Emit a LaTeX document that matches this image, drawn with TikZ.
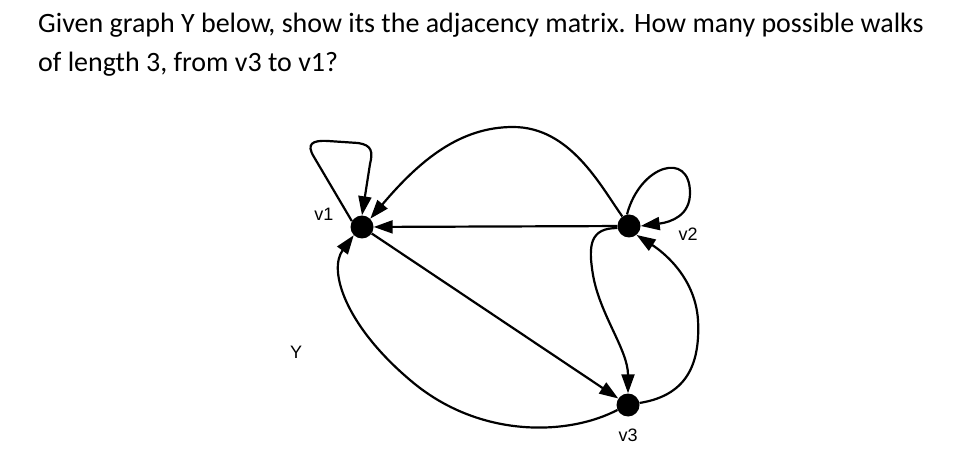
\documentclass[tikz,border=0pt]{standalone}
\usepackage{fontspec}
\setmainfont{Carlito}
\newfontfamily\lblfont{Liberation Sans}
\usetikzlibrary{arrows.meta}
\begin{document}
\begin{tikzpicture}[x=1pt,y=-1pt,
  vtx/.style={circle,fill=black,inner sep=0pt,minimum size=23pt},
  edge/.style={line width=2.2pt,-{Triangle[length=19pt,width=13pt]}},
  lbl/.style={font=\lblfont\fontsize{18}{21}\selectfont,inner sep=0pt},
  qtext/.style={font=\fontsize{28}{39}\selectfont,inner sep=0pt,anchor=base west,align=left}]
\useasboundingbox (0,0) rectangle (958,470);
\node[qtext] (q1) at (38,33) {Given graph Y below, show its the adjacency matrix. How many possible walks};
\node[qtext] (q2) at (38,72) {of length 3, from v3 to v1?};
\node[vtx] (v1) at (362,227) {};
\node[vtx] (v2) at (629,226) {};
\node[vtx] (v3) at (628,405) {};
\node[lbl] (l1) at (324,214) {v1};
\node[lbl] (l2) at (688,234) {v2};
\node[lbl] (l3) at (628,435) {v3};
\node[lbl] (ly) at (296,352) {Y};
% v1 self-loop
\draw[edge] (v1.150) -- (314,157) .. controls (306,144) and (312,140) .. (328,141) -- (358,143) .. controls (372,145) and (373,152) .. (370,164) -- (v1.north);
% v2 -> v1 arc
\draw[edge] (v2.125) .. controls (600,185) and (570,127) .. (513,127) .. controls (460,127) and (420,160) .. (v1.45);
% v2 -> v1 straight
\draw[edge] (v2) -- (v1);
% v2 self-loop
\draw[edge] (v2.100) .. controls (640,165) and (690,150) .. (690,193) .. controls (690,215) and (672,222) .. (v2.east);
% v1 -> v3
\draw[edge] (v1) -- (v3);
% v2 -> v3
\draw[edge] (v2.190) .. controls (590,228) and (588,245) .. (593,275) .. controls (600,315) and (628,350) .. (v3.north);
% v3 -> v2
\draw[edge] (v3.10) .. controls (690,395) and (700,360) .. (698,320) .. controls (695,275) and (660,250) .. (v2.-50);
% v3 -> v1
\draw[edge] (v3.205) .. controls (570,435) and (480,440) .. (410,380) .. controls (345,325) and (328,270) .. (v1.225);
\end{tikzpicture}
\end{document}
